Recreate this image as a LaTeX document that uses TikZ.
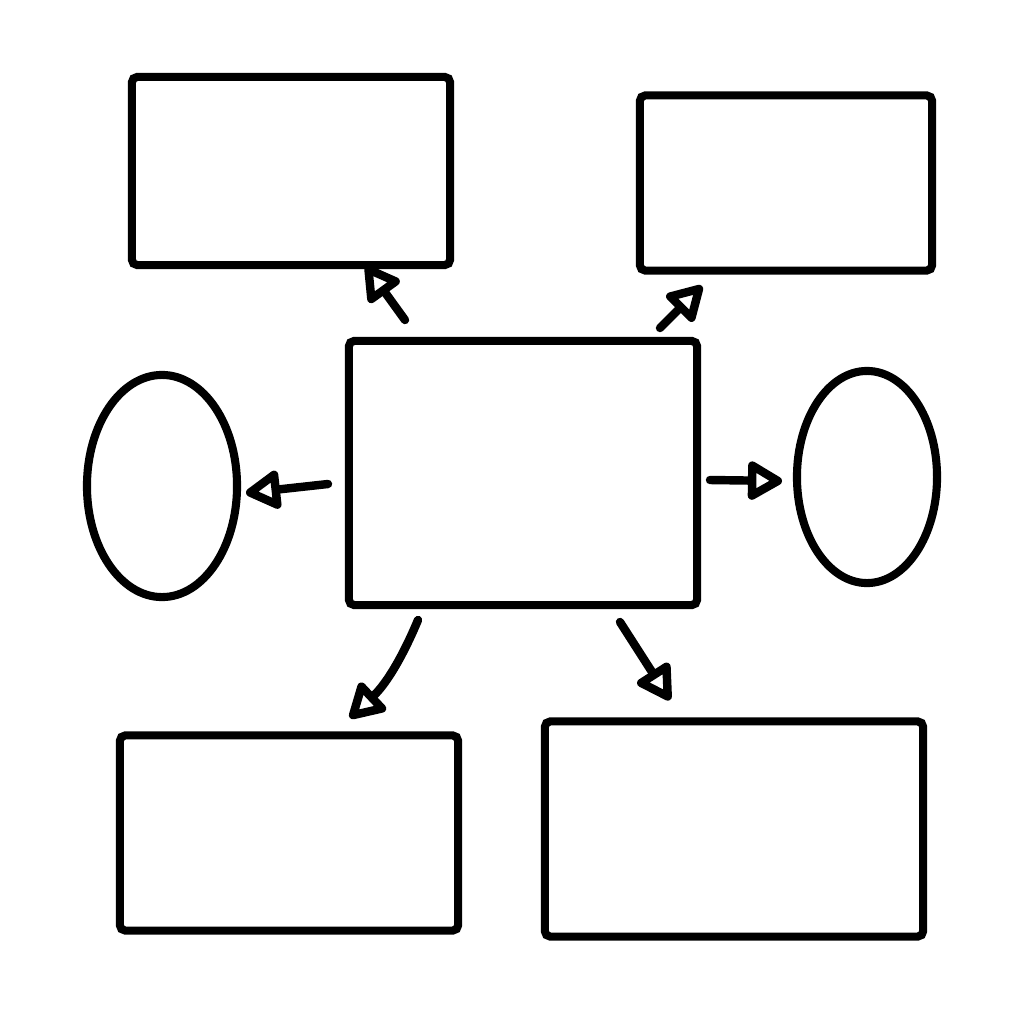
\documentclass[tikz,border=0pt]{standalone}
\usepackage{tikz}
\usetikzlibrary{shapes,arrows.meta}

\begin{document}
\begin{tikzpicture}[x=0.01cm,y=-0.01cm,
                   sketch/.style={draw=black,line width=2.3pt,rounded corners=1.5pt,inner sep=0pt},
                   oval/.style={draw=black,line width=2.3pt,ellipse,inner sep=0pt},
                   arr/.style={line width=2.4pt,line cap=round,-{Triangle[open,length=11pt,width=12pt,round]}}]
\useasboundingbox (0,0) rectangle (1024,1024);
% boxes and ovals
\node[sketch,minimum width=3.18cm,minimum height=1.88cm] (tl) at (291,171) {};
\node[sketch,minimum width=2.92cm,minimum height=1.75cm] (tr) at (786,183) {};
\node[sketch,minimum width=3.48cm,minimum height=2.64cm] (mid) at (523,473) {};
\node[oval,minimum width=1.5cm,minimum height=2.22cm] (lo) at (162,486) {};
\node[oval,minimum width=1.4cm,minimum height=2.12cm] (ro) at (867,477) {};
\node[sketch,minimum width=3.38cm,minimum height=1.95cm] (bl) at (289,833) {};
\node[sketch,minimum width=3.78cm,minimum height=2.15cm] (br) at (734,829) {};
% arrow ends
\coordinate (s1) at (405,320); \coordinate (e1) at (366,266);
\coordinate (s2) at (660,328); \coordinate (e2) at (702,286);
\coordinate (s3) at (328,484); \coordinate (e3) at (246,493);
\coordinate (s4) at (710,480); \coordinate (e4) at (782,481);
\coordinate (s5) at (418,620); \coordinate (e5) at (350,718);
\coordinate (s6) at (620,622); \coordinate (e6) at (670,700);
\draw[arr] (s1) -- (e1);
\draw[arr] (s2) -- (e2);
\draw[arr] (s3) -- (e3);
\draw[arr] (s4) -- (e4);
\draw[arr] (s5) to[bend left=12] (e5);
\draw[arr] (s6) -- (e6);
\end{tikzpicture}
\end{document}
